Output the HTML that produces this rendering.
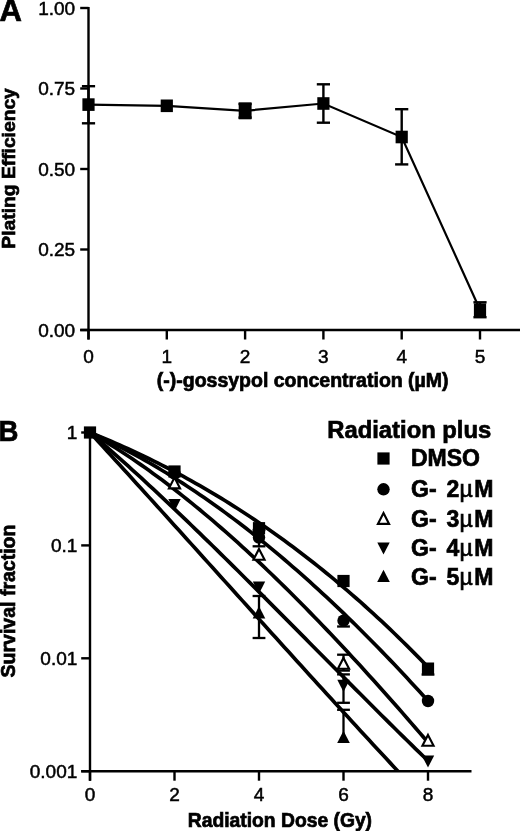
<!DOCTYPE html>
<html><head><meta charset="utf-8"><style>
html,body{margin:0;padding:0;background:#fff;overflow:hidden;}
svg{display:block;}
</style></head><body>
<svg width="520" height="831" viewBox="0 0 520 831">
<line x1="88.5" y1="7" x2="88.5" y2="339.5" stroke="#000" stroke-width="2.4"/>
<line x1="80.2" y1="330.0" x2="520" y2="330.0" stroke="#000" stroke-width="2.4"/>
<line x1="80.2" y1="330.00" x2="88.5" y2="330.00" stroke="#000" stroke-width="2.4"/>
<text x="75.2" y="336.80" text-anchor="end" font-size="19" stroke="#000" stroke-width="0.5" font-family="Liberation Sans, Arial, sans-serif">0.00</text>
<line x1="80.2" y1="249.50" x2="88.5" y2="249.50" stroke="#000" stroke-width="2.4"/>
<text x="75.2" y="256.30" text-anchor="end" font-size="19" stroke="#000" stroke-width="0.5" font-family="Liberation Sans, Arial, sans-serif">0.25</text>
<line x1="80.2" y1="169.00" x2="88.5" y2="169.00" stroke="#000" stroke-width="2.4"/>
<text x="75.2" y="175.80" text-anchor="end" font-size="19" stroke="#000" stroke-width="0.5" font-family="Liberation Sans, Arial, sans-serif">0.50</text>
<line x1="80.2" y1="88.50" x2="88.5" y2="88.50" stroke="#000" stroke-width="2.4"/>
<text x="75.2" y="95.30" text-anchor="end" font-size="19" stroke="#000" stroke-width="0.5" font-family="Liberation Sans, Arial, sans-serif">0.75</text>
<line x1="80.2" y1="8.00" x2="88.5" y2="8.00" stroke="#000" stroke-width="2.4"/>
<text x="75.2" y="14.80" text-anchor="end" font-size="19" stroke="#000" stroke-width="0.5" font-family="Liberation Sans, Arial, sans-serif">1.00</text>
<line x1="88.50" y1="330.0" x2="88.50" y2="339.5" stroke="#000" stroke-width="2.4"/>
<text x="88.50" y="362.8" text-anchor="middle" font-size="19" stroke="#000" stroke-width="0.5" font-family="Liberation Sans, Arial, sans-serif">0</text>
<line x1="166.80" y1="330.0" x2="166.80" y2="339.5" stroke="#000" stroke-width="2.4"/>
<text x="166.80" y="362.8" text-anchor="middle" font-size="19" stroke="#000" stroke-width="0.5" font-family="Liberation Sans, Arial, sans-serif">1</text>
<line x1="245.10" y1="330.0" x2="245.10" y2="339.5" stroke="#000" stroke-width="2.4"/>
<text x="245.10" y="362.8" text-anchor="middle" font-size="19" stroke="#000" stroke-width="0.5" font-family="Liberation Sans, Arial, sans-serif">2</text>
<line x1="323.40" y1="330.0" x2="323.40" y2="339.5" stroke="#000" stroke-width="2.4"/>
<text x="323.40" y="362.8" text-anchor="middle" font-size="19" stroke="#000" stroke-width="0.5" font-family="Liberation Sans, Arial, sans-serif">3</text>
<line x1="401.70" y1="330.0" x2="401.70" y2="339.5" stroke="#000" stroke-width="2.4"/>
<text x="401.70" y="362.8" text-anchor="middle" font-size="19" stroke="#000" stroke-width="0.5" font-family="Liberation Sans, Arial, sans-serif">4</text>
<line x1="480.00" y1="330.0" x2="480.00" y2="339.5" stroke="#000" stroke-width="2.4"/>
<text x="480.00" y="362.8" text-anchor="middle" font-size="19" stroke="#000" stroke-width="0.5" font-family="Liberation Sans, Arial, sans-serif">5</text>
<polyline points="88.50,104.6 166.80,105.8 245.10,110.8 323.40,103.5 401.70,137.0 480.00,309.7" fill="none" stroke="#000" stroke-width="2.2"/>
<line x1="88.50" y1="86.2" x2="88.50" y2="123.3" stroke="#000" stroke-width="2.4"/>
<line x1="81.90" y1="86.2" x2="95.10" y2="86.2" stroke="#000" stroke-width="2.4"/>
<line x1="81.90" y1="123.3" x2="95.10" y2="123.3" stroke="#000" stroke-width="2.4"/>
<rect x="82.40" y="98.30" width="12.2" height="12.6" fill="#000"/>
<rect x="160.70" y="99.50" width="12.2" height="12.6" fill="#000"/>
<line x1="245.10" y1="104.0" x2="245.10" y2="117.6" stroke="#000" stroke-width="2.4"/>
<line x1="238.50" y1="104.0" x2="251.70" y2="104.0" stroke="#000" stroke-width="2.4"/>
<line x1="238.50" y1="117.6" x2="251.70" y2="117.6" stroke="#000" stroke-width="2.4"/>
<rect x="239.00" y="104.50" width="12.2" height="12.6" fill="#000"/>
<line x1="323.40" y1="84.3" x2="323.40" y2="122.7" stroke="#000" stroke-width="2.4"/>
<line x1="316.80" y1="84.3" x2="330.00" y2="84.3" stroke="#000" stroke-width="2.4"/>
<line x1="316.80" y1="122.7" x2="330.00" y2="122.7" stroke="#000" stroke-width="2.4"/>
<rect x="317.30" y="97.20" width="12.2" height="12.6" fill="#000"/>
<line x1="401.70" y1="109.2" x2="401.70" y2="164.4" stroke="#000" stroke-width="2.4"/>
<line x1="395.10" y1="109.2" x2="408.30" y2="109.2" stroke="#000" stroke-width="2.4"/>
<line x1="395.10" y1="164.4" x2="408.30" y2="164.4" stroke="#000" stroke-width="2.4"/>
<rect x="395.60" y="130.70" width="12.2" height="12.6" fill="#000"/>
<line x1="480.00" y1="302.3" x2="480.00" y2="317.2" stroke="#000" stroke-width="2.4"/>
<line x1="473.40" y1="302.3" x2="486.60" y2="302.3" stroke="#000" stroke-width="2.4"/>
<line x1="473.40" y1="317.2" x2="486.60" y2="317.2" stroke="#000" stroke-width="2.4"/>
<rect x="473.90" y="303.40" width="12.2" height="12.6" fill="#000"/>
<rect x="238.70" y="102.4" width="12.8" height="16.9" fill="#000"/>
<text x="302.7" y="386.6" text-anchor="middle" font-size="19.5" font-weight="bold" stroke="#000" stroke-width="0.7" font-family="Liberation Sans, Arial, sans-serif">(-)-gossypol concentration (µM)</text>
<text transform="translate(15.0,168.4) rotate(-90)" text-anchor="middle" font-size="19.25" font-weight="bold" stroke="#000" stroke-width="0.7" font-family="Liberation Sans, Arial, sans-serif">Plating Efficiency</text>
<text x="-0.5" y="21.0" font-size="31" font-weight="bold" stroke="#000" stroke-width="0.7" font-family="Liberation Sans, Arial, sans-serif">A</text>
<line x1="90.0" y1="431.5" x2="90.0" y2="780.7" stroke="#000" stroke-width="2.4"/>
<line x1="81.2" y1="771.20" x2="471.5" y2="771.20" stroke="#000" stroke-width="2.4"/>
<line x1="81.2" y1="432.50" x2="90.0" y2="432.50" stroke="#000" stroke-width="2.4"/>
<text x="77.3" y="439.30" text-anchor="end" font-size="19" stroke="#000" stroke-width="0.5" font-family="Liberation Sans, Arial, sans-serif">1</text>
<line x1="81.2" y1="545.40" x2="90.0" y2="545.40" stroke="#000" stroke-width="2.4"/>
<text x="77.3" y="552.20" text-anchor="end" font-size="19" stroke="#000" stroke-width="0.5" font-family="Liberation Sans, Arial, sans-serif">0.1</text>
<line x1="81.2" y1="658.30" x2="90.0" y2="658.30" stroke="#000" stroke-width="2.4"/>
<text x="77.3" y="665.10" text-anchor="end" font-size="19" stroke="#000" stroke-width="0.5" font-family="Liberation Sans, Arial, sans-serif">0.01</text>
<line x1="81.2" y1="771.20" x2="90.0" y2="771.20" stroke="#000" stroke-width="2.4"/>
<text x="77.3" y="778.00" text-anchor="end" font-size="19" stroke="#000" stroke-width="0.5" font-family="Liberation Sans, Arial, sans-serif">0.001</text>
<line x1="90.00" y1="771.20" x2="90.00" y2="780.70" stroke="#000" stroke-width="2.4"/>
<text x="90.00" y="801.2" text-anchor="middle" font-size="19" stroke="#000" stroke-width="0.5" font-family="Liberation Sans, Arial, sans-serif">0</text>
<line x1="174.50" y1="771.20" x2="174.50" y2="780.70" stroke="#000" stroke-width="2.4"/>
<text x="174.50" y="801.2" text-anchor="middle" font-size="19" stroke="#000" stroke-width="0.5" font-family="Liberation Sans, Arial, sans-serif">2</text>
<line x1="259.00" y1="771.20" x2="259.00" y2="780.70" stroke="#000" stroke-width="2.4"/>
<text x="259.00" y="801.2" text-anchor="middle" font-size="19" stroke="#000" stroke-width="0.5" font-family="Liberation Sans, Arial, sans-serif">4</text>
<line x1="343.50" y1="771.20" x2="343.50" y2="780.70" stroke="#000" stroke-width="2.4"/>
<text x="343.50" y="801.2" text-anchor="middle" font-size="19" stroke="#000" stroke-width="0.5" font-family="Liberation Sans, Arial, sans-serif">6</text>
<line x1="428.00" y1="771.20" x2="428.00" y2="780.70" stroke="#000" stroke-width="2.4"/>
<text x="428.00" y="801.2" text-anchor="middle" font-size="19" stroke="#000" stroke-width="0.5" font-family="Liberation Sans, Arial, sans-serif">8</text>
<text x="279.9" y="827.4" text-anchor="middle" font-size="19.3" font-weight="bold" stroke="#000" stroke-width="0.7" font-family="Liberation Sans, Arial, sans-serif">Radiation Dose (Gy)</text>
<text transform="translate(15.2,601) rotate(-90)" text-anchor="middle" font-size="19.5" font-weight="bold" stroke="#000" stroke-width="0.7" font-family="Liberation Sans, Arial, sans-serif">Survival fraction</text>
<text transform="translate(0.3,440.9) scale(0.91,1)" x="-2.1" y="0" font-size="30.3" font-weight="bold" stroke="#000" stroke-width="0.7" font-family="Liberation Sans, Arial, sans-serif">B</text>
<defs><clipPath id="cb"><rect x="0" y="0" width="520" height="771.20"/></clipPath></defs>
<polyline clip-path="url(#cb)" points="90.00,432.50 94.22,434.21 98.45,435.94 102.67,437.69 106.90,439.48 111.12,441.29 115.35,443.12 119.58,444.98 123.80,446.87 128.03,448.79 132.25,450.73 136.47,452.70 140.70,454.70 144.93,456.72 149.15,458.78 153.38,460.86 157.60,462.97 161.82,465.11 166.05,467.27 170.27,469.47 174.50,471.70 178.73,473.95 182.95,476.24 187.18,478.55 191.40,480.90 195.62,483.28 199.85,485.68 204.07,488.12 208.30,490.59 212.52,493.09 216.75,495.62 220.97,498.18 225.20,500.78 229.42,503.41 233.65,506.07 237.88,508.76 242.10,511.48 246.33,514.24 250.55,517.03 254.78,519.86 259.00,522.72 263.23,525.61 267.45,528.53 271.67,531.49 275.90,534.49 280.12,537.52 284.35,540.59 288.58,543.69 292.80,546.82 297.02,549.99 301.25,553.20 305.48,556.44 309.70,559.72 313.92,563.04 318.15,566.39 322.38,569.78 326.60,573.21 330.83,576.67 335.05,580.17 339.27,583.71 343.50,587.29 347.72,590.90 351.95,594.56 356.18,598.25 360.40,601.98 364.62,605.75 368.85,609.56 373.07,613.41 377.30,617.30 381.53,621.23 385.75,625.20 389.97,629.21 394.20,633.26 398.43,637.35 402.65,641.48 406.88,645.65 411.10,649.87 415.32,654.12 419.55,658.42 423.78,662.76 428.00,667.15" fill="none" stroke="#000" stroke-width="3.7"/>
<polyline clip-path="url(#cb)" points="90.00,432.50 94.22,434.40 98.45,436.35 102.67,438.33 106.90,440.36 111.12,442.42 115.35,444.52 119.58,446.67 123.80,448.85 128.03,451.07 132.25,453.33 136.47,455.62 140.70,457.96 144.93,460.34 149.15,462.75 153.38,465.20 157.60,467.69 161.82,470.22 166.05,472.78 170.27,475.39 174.50,478.03 178.73,480.71 182.95,483.42 187.18,486.18 191.40,488.97 195.62,491.79 199.85,494.66 204.07,497.56 208.30,500.50 212.52,503.47 216.75,506.48 220.97,509.53 225.20,512.62 229.42,515.74 233.65,518.89 237.88,522.08 242.10,525.31 246.33,528.58 250.55,531.87 254.78,535.21 259.00,538.58 263.23,541.98 267.45,545.42 271.67,548.90 275.90,552.41 280.12,555.95 284.35,559.53 288.58,563.14 292.80,566.79 297.02,570.47 301.25,574.19 305.48,577.94 309.70,581.73 313.92,585.54 318.15,589.39 322.38,593.28 326.60,597.20 330.83,601.15 335.05,605.13 339.27,609.15 343.50,613.20 347.72,617.29 351.95,621.40 356.18,625.55 360.40,629.73 364.62,633.95 368.85,638.19 373.07,642.47 377.30,646.78 381.53,651.12 385.75,655.49 389.97,659.90 394.20,664.34 398.43,668.80 402.65,673.30 406.88,677.83 411.10,682.40 415.32,686.99 419.55,691.61 423.78,696.26 428.00,700.95" fill="none" stroke="#000" stroke-width="3.7"/>
<polyline clip-path="url(#cb)" points="90.00,432.50 94.22,434.93 98.45,437.40 102.67,439.92 106.90,442.49 111.12,445.10 115.35,447.76 119.58,450.46 123.80,453.21 128.03,456.00 132.25,458.83 136.47,461.71 140.70,464.63 144.93,467.59 149.15,470.60 153.38,473.64 157.60,476.73 161.82,479.86 166.05,483.03 170.27,486.24 174.50,489.49 178.73,492.78 182.95,496.10 187.18,499.47 191.40,502.87 195.62,506.31 199.85,509.79 204.07,513.31 208.30,516.86 212.52,520.45 216.75,524.07 220.97,527.73 225.20,531.43 229.42,535.16 233.65,538.92 237.88,542.72 242.10,546.55 246.33,550.42 250.55,554.31 254.78,558.24 259.00,562.20 263.23,566.20 267.45,570.22 271.67,574.28 275.90,578.36 280.12,582.48 284.35,586.62 288.58,590.80 292.80,595.00 297.02,599.23 301.25,603.49 305.48,607.78 309.70,612.09 313.92,616.44 318.15,620.80 322.38,625.20 326.60,629.62 330.83,634.07 335.05,638.54 339.27,643.03 343.50,647.55 347.72,652.09 351.95,656.66 356.18,661.25 360.40,665.86 364.62,670.50 368.85,675.15 373.07,679.83 377.30,684.53 381.53,689.25 385.75,693.99 389.97,698.75 394.20,703.53 398.43,708.33 402.65,713.15 406.88,717.98 411.10,722.84 415.32,727.71 419.55,732.60 423.78,737.50 428.00,742.42" fill="none" stroke="#000" stroke-width="3.7"/>
<polyline clip-path="url(#cb)" points="90.00,432.50 94.22,436.12 98.45,439.77 102.67,443.44 106.90,447.14 111.12,450.86 115.35,454.60 119.58,458.36 123.80,462.15 128.03,465.95 132.25,469.78 136.47,473.63 140.70,477.49 144.93,481.38 149.15,485.28 153.38,489.21 157.60,493.15 161.82,497.11 166.05,501.08 170.27,505.07 174.50,509.08 178.73,513.11 182.95,517.14 187.18,521.20 191.40,525.26 195.62,529.35 199.85,533.44 204.07,537.55 208.30,541.66 212.52,545.80 216.75,549.94 220.97,554.09 225.20,558.25 229.42,562.43 233.65,566.61 237.88,570.80 242.10,575.00 246.33,579.20 250.55,583.42 254.78,587.64 259.00,591.87 263.23,596.10 267.45,600.34 271.67,604.59 275.90,608.84 280.12,613.09 284.35,617.35 288.58,621.61 292.80,625.87 297.02,630.14 301.25,634.41 305.48,638.67 309.70,642.94 313.92,647.21 318.15,651.48 322.38,655.75 326.60,660.02 330.83,664.29 335.05,668.55 339.27,672.81 343.50,677.07 347.72,681.33 351.95,685.58 356.18,689.82 360.40,694.07 364.62,698.30 368.85,702.53 373.07,706.76 377.30,710.98 381.53,715.19 385.75,719.39 389.97,723.59 394.20,727.77 398.43,731.95 402.65,736.12 406.88,740.27 411.10,744.42 415.32,748.56 419.55,752.68 423.78,756.79 428.00,760.89" fill="none" stroke="#000" stroke-width="3.7"/>
<polyline clip-path="url(#cb)" points="90.00,432.50 94.22,437.10 98.45,441.71 102.67,446.32 106.90,450.94 111.12,455.57 115.35,460.19 119.58,464.83 123.80,469.46 128.03,474.11 132.25,478.75 136.47,483.40 140.70,488.06 144.93,492.71 149.15,497.37 153.38,502.04 157.60,506.70 161.82,511.37 166.05,516.04 170.27,520.72 174.50,525.39 178.73,530.07 182.95,534.75 187.18,539.44 191.40,544.12 195.62,548.80 199.85,553.49 204.07,558.18 208.30,562.87 212.52,567.56 216.75,572.24 220.97,576.93 225.20,581.62 229.42,586.31 233.65,591.00 237.88,595.69 242.10,600.38 246.33,605.06 250.55,609.75 254.78,614.44 259.00,619.12 263.23,623.80 267.45,628.48 271.67,633.16 275.90,637.84 280.12,642.51 284.35,647.18 288.58,651.85 292.80,656.51 297.02,661.18 301.25,665.84 305.48,670.49 309.70,675.15 313.92,679.79 318.15,684.44 322.38,689.08 326.60,693.72 330.83,698.35 335.05,702.98 339.27,707.60 343.50,712.22 347.72,716.83 351.95,721.43 356.18,726.04 360.40,730.63 364.62,735.22 368.85,739.80 373.07,744.38 377.30,748.95 381.53,753.51 385.75,758.07 389.97,762.62 394.20,767.16 398.43,771.70 402.65,776.23 406.88,780.75 411.10,785.26 415.32,789.76 419.55,794.26 423.78,798.74 428.00,803.22" fill="none" stroke="#000" stroke-width="3.7"/>
<line x1="259.00" y1="530" x2="259.00" y2="546.3" stroke="#000" stroke-width="2.3"/><line x1="252.60" y1="530" x2="265.40" y2="530" stroke="#000" stroke-width="2.3"/><line x1="252.60" y1="546.3" x2="265.40" y2="546.3" stroke="#000" stroke-width="2.3"/>
<line x1="259.00" y1="596" x2="259.00" y2="638" stroke="#000" stroke-width="2.3"/><line x1="252.60" y1="596" x2="265.40" y2="596" stroke="#000" stroke-width="2.3"/><line x1="252.60" y1="638" x2="265.40" y2="638" stroke="#000" stroke-width="2.3"/>
<line x1="343.50" y1="654.7" x2="343.50" y2="670.6" stroke="#000" stroke-width="2.3"/><line x1="337.10" y1="654.7" x2="349.90" y2="654.7" stroke="#000" stroke-width="2.3"/><line x1="337.10" y1="670.6" x2="349.90" y2="670.6" stroke="#000" stroke-width="2.3"/>
<line x1="343.50" y1="674.4" x2="343.50" y2="702.8" stroke="#000" stroke-width="2.3"/><line x1="337.10" y1="674.4" x2="349.90" y2="674.4" stroke="#000" stroke-width="2.3"/><line x1="337.10" y1="702.8" x2="349.90" y2="702.8" stroke="#000" stroke-width="2.3"/>
<line x1="343.50" y1="709.8" x2="343.50" y2="739" stroke="#000" stroke-width="2.3"/><line x1="337.10" y1="709.8" x2="349.90" y2="709.8" stroke="#000" stroke-width="2.3"/>
<line x1="343.50" y1="615" x2="343.50" y2="626.5" stroke="#000" stroke-width="2.3"/><line x1="337.10" y1="626.5" x2="349.90" y2="626.5" stroke="#000" stroke-width="2.3"/>
<line x1="428.00" y1="668" x2="428.00" y2="674.6" stroke="#000" stroke-width="2.3"/><line x1="421.60" y1="674.6" x2="434.40" y2="674.6" stroke="#000" stroke-width="2.3"/>
<rect x="83.90" y="426.40" width="12.2" height="12.2" fill="#000"/>
<circle cx="174.50" cy="473.50" r="6.2" fill="#000"/>
<rect x="168.40" y="465.40" width="12.2" height="12.2" fill="#000"/>
<polygon points="174.50,477.50 180.10,488.40 168.90,488.40" fill="#fff" stroke="#000" stroke-width="2.1" stroke-linejoin="miter"/>
<polygon points="168.30,499.10 180.70,499.10 174.50,511.30" fill="#000"/>
<circle cx="259.00" cy="537.50" r="6.2" fill="#000"/>
<rect x="252.90" y="522.10" width="12.2" height="12.2" fill="#000"/>
<polygon points="259.00,548.90 264.60,559.80 253.40,559.80" fill="#fff" stroke="#000" stroke-width="2.1" stroke-linejoin="miter"/>
<polygon points="252.80,581.60 265.20,581.60 259.00,593.80" fill="#000"/>
<polygon points="259.00,606.20 265.30,618.40 252.70,618.40" fill="#000"/>
<rect x="337.40" y="574.90" width="12.2" height="12.2" fill="#000"/>
<circle cx="343.50" cy="620.70" r="6.2" fill="#000"/>
<polygon points="343.50,657.90 349.10,668.80 337.90,668.80" fill="#fff" stroke="#000" stroke-width="2.1" stroke-linejoin="miter"/>
<polygon points="337.30,679.80 349.70,679.80 343.50,692.00" fill="#000"/>
<polygon points="343.50,730.80 349.80,743.00 337.20,743.00" fill="#000"/>
<rect x="421.90" y="662.50" width="12.2" height="12.2" fill="#000"/>
<circle cx="428.00" cy="701.00" r="6.2" fill="#000"/>
<polygon points="428.00,734.90 433.60,745.80 422.40,745.80" fill="#fff" stroke="#000" stroke-width="2.1" stroke-linejoin="miter"/>
<polygon points="421.80,755.40 434.20,755.40 428.00,767.60" fill="#000"/>
<text x="327.3" y="437.5" font-size="23.8" font-weight="bold" stroke="#000" stroke-width="0.7" font-family="Liberation Sans, Arial, sans-serif">Radiation plus</text>
<rect x="377.40" y="452.40" width="12.2" height="12.2" fill="#000"/>
<circle cx="383.50" cy="489.30" r="6.2" fill="#000"/>
<polygon points="383.50,513.00 389.10,523.90 377.90,523.90" fill="#fff" stroke="#000" stroke-width="2.1" stroke-linejoin="miter"/>
<polygon points="377.30,542.40 389.70,542.40 383.50,554.60" fill="#000"/>
<polygon points="383.50,569.80 389.80,582.00 377.20,582.00" fill="#000"/>
<text x="411" y="465.8" font-size="23" font-weight="bold" stroke="#000" stroke-width="0.7" font-family="Liberation Sans, Arial, sans-serif">DMSO</text>
<text y="497.4" font-size="23" font-weight="bold" stroke="#000" stroke-width="0.7" font-family="Liberation Sans, Arial, sans-serif"><tspan x="411">G-</tspan><tspan x="446.5">2</tspan><tspan x="459.5" font-weight="normal">µ</tspan><tspan x="474.3">M</tspan></text>
<text y="527" font-size="23" font-weight="bold" stroke="#000" stroke-width="0.7" font-family="Liberation Sans, Arial, sans-serif"><tspan x="411">G-</tspan><tspan x="446.5">3</tspan><tspan x="459.5" font-weight="normal">µ</tspan><tspan x="474.3">M</tspan></text>
<text y="555.5" font-size="23" font-weight="bold" stroke="#000" stroke-width="0.7" font-family="Liberation Sans, Arial, sans-serif"><tspan x="411">G-</tspan><tspan x="446.5">4</tspan><tspan x="459.5" font-weight="normal">µ</tspan><tspan x="474.3">M</tspan></text>
<text y="584.5" font-size="23" font-weight="bold" stroke="#000" stroke-width="0.7" font-family="Liberation Sans, Arial, sans-serif"><tspan x="411">G-</tspan><tspan x="446.5">5</tspan><tspan x="459.5" font-weight="normal">µ</tspan><tspan x="474.3">M</tspan></text>
</svg>
</body></html>
